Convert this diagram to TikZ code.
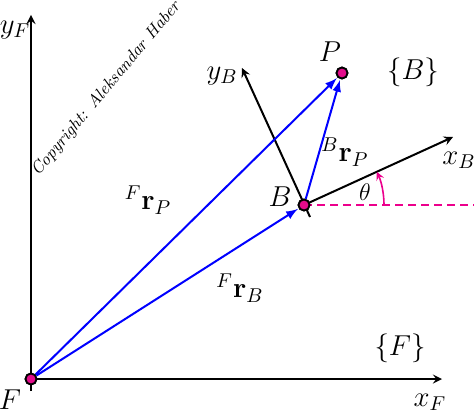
\documentclass[tikz,border=0pt]{standalone}
\usepackage{amsmath}
\usepackage{xcolor}
\usetikzlibrary{calc}
\newcommand{\vecr}[2]{${}^{#1}\mathbf{r}_{#2}$}

\begin{document}
\begin{tikzpicture}[x=0.5pt,y=0.5pt]
    \tikzset{axis/.style={line width=1pt,-stealth},
             vec/.style={line width=1pt,blue,-latex,shorten >=0.5pt},
             dot/.style={circle,draw=black,fill=magenta!90!violet,line width=0.9pt,inner sep=0pt,minimum size=5.5pt},
             lbl/.style={font=\Large}}
    \useasboundingbox (-31,-34) rectangle (443,379);
    % frame {F}
    \coordinate (xFs) at (-4,0);
    \coordinate (yFs) at (0,-12);
    \coordinate (xFe) at (411,0);
    \coordinate (yFe) at (0,364);
    \draw[axis] (xFs) -- (xFe);
    \draw[axis] (yFs) -- (yFe);
    % frame {B}
    \coordinate (xBe) at (422,242);
    \coordinate (yBs) at (279,162);
    \coordinate (yBe) at (211,311);
    \coordinate (hor) at (443,174);
    \draw[line width=1pt,-stealth] (273,174) -- (xBe);
    \draw[axis] (yBs) -- (yBe);
    \draw[magenta,line width=1pt,dash pattern=on 4pt off 2.5pt] (273,174) -- (hor);
    \draw[magenta,line width=0.8pt,-stealth] ($(273,174)+(80,0)$) arc[start angle=0,end angle=24.5,radius=80];
    % points
    \node[dot] (F) at (0,0) {};
    \node[dot] (B) at (273,174) {};
    \node[dot] (P) at (311,306) {};
    \draw[vec] (F) -- (B);
    \draw[vec] (F) -- (P);
    \draw[vec] (B) -- (P);
    \node[dot] at (F) {};
    \node[dot] at (B) {};
    \node[dot] at (P) {};
    % labels
    \node[lbl] (FrP) at (117,179) {\vecr{F}{P}};
    \node[lbl] (FrB) at (209,91) {\vecr{F}{B}};
    \node[lbl] (BrP) at (314,227) {\vecr{B}{P}};
    \node[lbl] (Blab) at (249,182) {$B$};
    \node[lbl] (Plab) at (299,327) {$P$};
    \node[lbl] (Flab) at (-21,-21) {$F$};
    \node[lbl] (frB) at (382,307) {\{$B$\}};
    \node[lbl] (frF) at (369,31) {\{$F$\}};
    \node[lbl] (xF) at (399,-23) {$x_F$};
    \node[lbl] (yF) at (-16,349) {$y_F$};
    \node[lbl] (xB) at (428,219) {$x_B$};
    \node[lbl] (yB) at (191,303) {$y_B$};
    \node[font=\large] (th) at (334,187) {$\theta$};
    \node[rotate=50,font=\small\itshape,scale=0.94] (copy) at (75,290) {Copyright: Aleksandar Haber};
\end{tikzpicture}
\end{document}
